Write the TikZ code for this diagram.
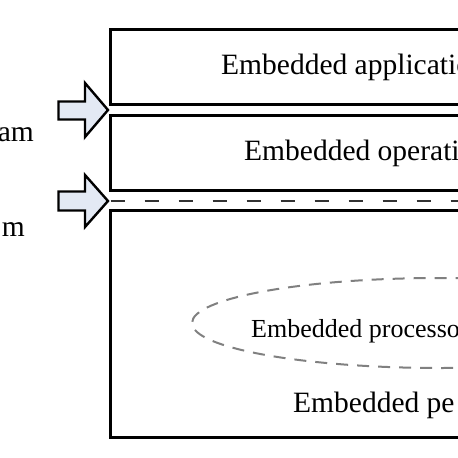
\documentclass[tikz,border=0pt]{standalone}
\usepackage{fontspec}
\setmainfont{Liberation Serif}
\usetikzlibrary{shapes.geometric}
\begin{document}
\begin{tikzpicture}[x=1pt,y=-1pt,
  layerbox/.style={draw=black,line width=3pt},
  inarrow/.style={draw=black,line width=2.4pt,fill=arrowfill,line join=miter},
  lbl/.style={inner sep=0pt,font=\fontsize{29.5}{32}\selectfont},
  sublbl/.style={inner sep=0pt,font=\fontsize{26}{28}\selectfont},
  busline/.style={draw=black!80,line width=2.6pt,dash pattern=on 14pt off 20pt},
  procring/.style={draw=black!50,line width=2pt,dash pattern=on 12pt off 9pt}]
\definecolor{arrowfill}{HTML}{E3E9F4}
\useasboundingbox (0,0) rectangle (458,458);
\clip (0,0) rectangle (458,458);
% layers
\draw[layerbox] (480,29) -- (110.7,29) -- (110.7,104) -- (480,104);
\draw[layerbox] (480,115.7) -- (110.7,115.7) -- (110.7,190.7) -- (480,190.7);
\draw[layerbox] (480,210) -- (110.7,210) -- (110.7,437) -- (480,437);
\coordinate (busL) at (110.7,201);
\coordinate (busR) at (480,201);
\draw[busline] (busL) -- (busR);
% arrows
\draw[inarrow] (58.5,101.5) -- (85,101.5) -- (85,83) -- (108,110) -- (85,137) -- (85,119.5) -- (58.5,119.5) -- cycle;
\draw[inarrow] (58.5,191.5) -- (85,191.5) -- (85,175) -- (108,201) -- (85,227) -- (85,210.5) -- (58.5,210.5) -- cycle;
% processor ring
\node[procring,ellipse,draw,minimum width=496pt,minimum height=90pt,inner sep=0pt] (ring) at (440,323) {};
% texts
\node[lbl,anchor=base west] (app) at (221,74) {Embedded applicatio};
\node[lbl,anchor=base west] (os) at (244,160) {Embedded operati};
\node[sublbl,anchor=base west] (proc) at (251,337) {Embedded processo};
\node[lbl,anchor=base west] (per) at (293,412) {Embedded pe};
\node[lbl,anchor=base east] (la) at (34,141) {am};
\node[lbl,anchor=base east] (lb) at (25,236) {m};
\end{tikzpicture}
\end{document}
